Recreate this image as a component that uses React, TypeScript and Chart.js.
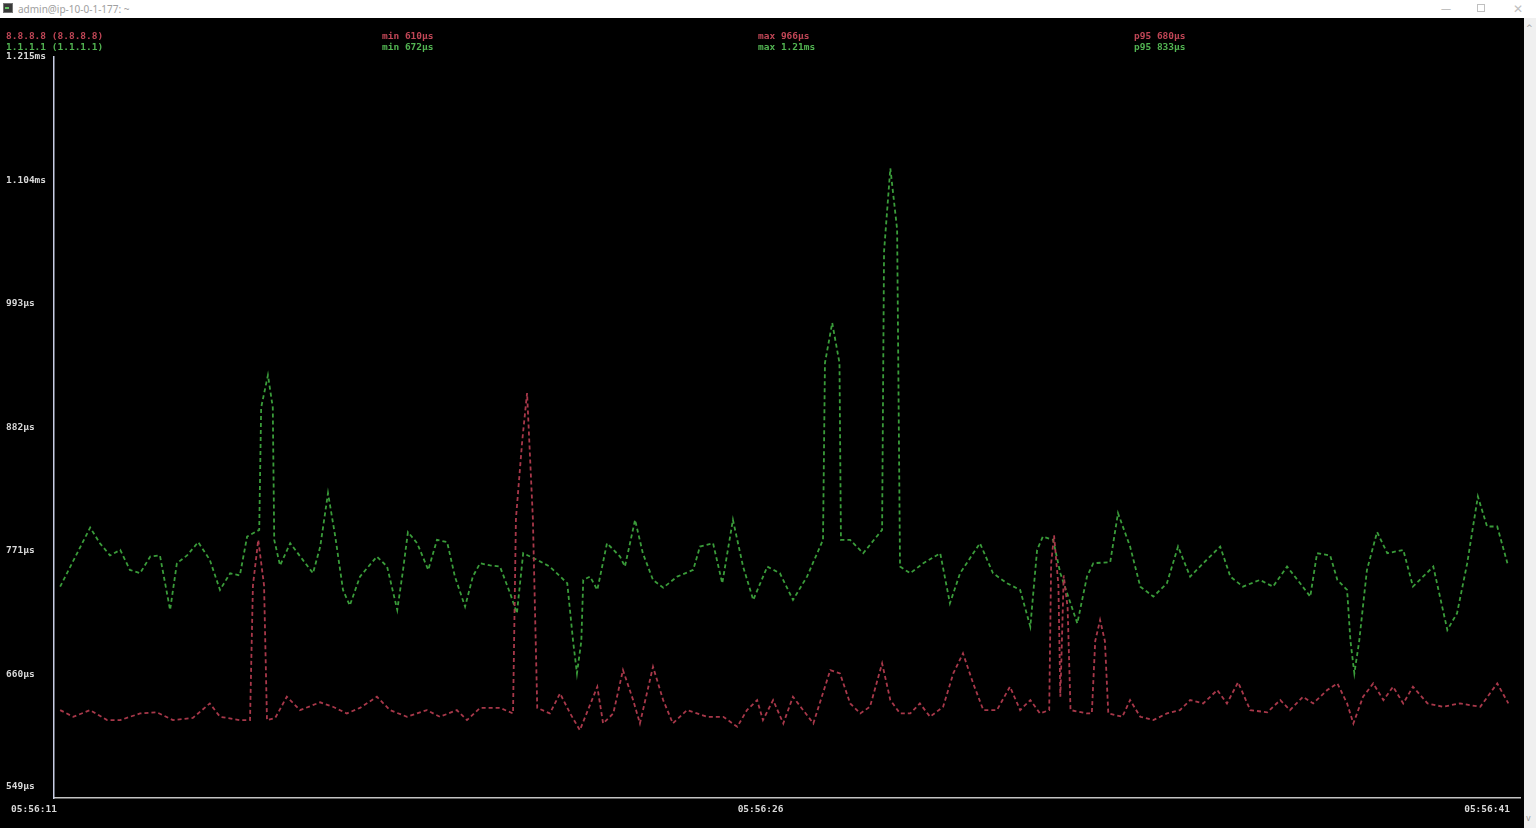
import React, { useEffect, useRef } from 'react';
import { Chart, registerables } from 'chart.js';

Chart.register(...registerables);

// ---- data ----
const seriesNames = ['8.8.8.8 (8.8.8.8)', '1.1.1.1 (1.1.1.1)'];
const minLabels = ['min 610µs', 'min 672µs'];
const maxLabels = ['max 966µs', 'max 1.21ms'];
const p95Labels = ['p95 680µs', 'p95 833µs'];

// seconds since 05:56:11
const redTimes = [
  0.54, 0.81, 1.16, 1.51, 1.78, 2.19, 2.54, 2.87, 3.28, 3.63, 3.84, 4.25, 4.46, 4.52, 4.63, 4.75,
  4.81, 4.98, 5.22, 5.49, 5.91, 6.17, 6.46, 6.73, 7.08, 7.35, 7.7, 8.11, 8.38, 8.73, 8.94, 9.21,
  9.62, 9.89, 9.95, 10.08, 10.18, 10.3, 10.39, 10.65, 10.86, 11.07, 11.27, 11.63, 11.75, 11.96, 12.16, 12.37,
  12.51, 12.78, 12.99, 13.19, 13.48, 13.9, 14.23, 14.52, 14.72, 14.93, 15.05, 15.26, 15.47, 15.67, 15.88, 16.09,
  16.44, 16.64, 16.85, 17.06, 17.26, 17.51, 17.68, 17.88, 18.09, 18.29, 18.5, 18.77, 18.98, 19.18, 19.39, 19.6,
  19.88, 20.15, 20.36, 20.57, 20.77, 20.96, 21.0, 21.06, 21.15, 21.19, 21.26, 21.34, 21.4, 21.74, 21.84, 21.91,
  22.01, 22.11, 22.18, 22.47, 22.63, 22.84, 23.11, 23.39, 23.66, 23.87, 24.14, 24.43, 24.63, 24.86, 25.11, 25.46,
  25.73, 25.93, 26.2, 26.41, 26.7, 26.91, 27.11, 27.24, 27.44, 27.65, 27.86, 28.06, 28.27, 28.47, 28.77, 29.09,
  29.44, 29.86, 30.21, 30.44,
];
const redValues = [
  628, 622, 628, 619, 619, 625, 626, 619, 621, 634, 622, 619, 619, 740, 781, 740,
  619, 621, 640, 628, 635, 631, 625, 630, 640, 628, 622, 628, 622, 628, 619, 630,
  630, 625, 800, 870, 913, 800, 630, 625, 643, 625, 610, 649, 616, 625, 664, 637,
  616, 667, 637, 616, 628, 622, 622, 613, 628, 637, 619, 637, 616, 640, 628, 616,
  664, 661, 634, 625, 631, 670, 637, 625, 625, 634, 622, 631, 661, 679, 652, 628,
  628, 649, 628, 637, 625, 628, 760, 785, 740, 640, 749, 720, 628, 625, 625, 690,
  709, 690, 625, 622, 637, 622, 619, 625, 628, 637, 634, 646, 634, 653, 628, 626,
  637, 628, 640, 634, 646, 652, 634, 616, 640, 652, 637, 649, 634, 649, 634, 631,
  634, 631, 652, 634,
];

const greenTimes = [
  0.54, 1.16, 1.36, 1.57, 1.78, 1.98, 2.19, 2.4, 2.6, 2.81, 2.95, 3.16, 3.39, 3.63, 3.84, 4.05,
  4.25, 4.4, 4.65, 4.69, 4.83, 4.93, 4.96, 5.08, 5.29, 5.55, 5.76, 5.91, 6.07, 6.22, 6.38, 6.52,
  6.73, 7.08, 7.29, 7.5, 7.62, 7.72, 7.91, 8.14, 8.32, 8.53, 8.69, 8.9, 9.06, 9.21, 9.42, 9.62,
  9.83, 9.97, 10.1, 10.39, 10.65, 11.01, 11.13, 11.21, 11.3, 11.34, 11.48, 11.63, 11.83, 12.1, 12.2, 12.41,
  12.57, 12.78, 12.99, 13.28, 13.61, 13.75, 14.02, 14.21, 14.43, 14.64, 14.85, 15.14, 15.4, 15.67, 15.96, 16.17,
  16.29, 16.33, 16.48, 16.63, 16.66, 16.85, 17.12, 17.51, 17.55, 17.68, 17.82, 17.88, 18.09, 18.36, 18.71, 18.91,
  19.12, 19.53, 19.8, 20.09, 20.36, 20.57, 20.71, 20.83, 21.04, 21.19, 21.54, 21.74, 21.87, 22.22, 22.38, 22.63,
  22.84, 23.11, 23.39, 23.62, 23.87, 24.14, 24.49, 24.7, 24.96, 25.31, 25.58, 25.87, 26.14, 26.35, 26.49, 26.76,
  26.91, 27.11, 27.18, 27.26, 27.36, 27.52, 27.73, 27.94, 28.27, 28.47, 28.89, 29.18, 29.38, 29.59, 29.81, 30.0,
  30.21, 30.42,
];
const greenValues = [
  739, 792, 778, 767, 772, 754, 751, 766, 767, 718, 760, 767, 779, 763, 736, 751,
  749, 784, 790, 900, 929, 900, 781, 758, 778, 763, 751, 775, 823, 784, 736, 722,
  748, 766, 757, 718, 754, 788, 778, 754, 781, 779, 748, 721, 748, 760, 758, 757,
  733, 715, 769, 763, 757, 742, 690, 661, 690, 745, 748, 736, 778, 766, 757, 799,
  769, 745, 738, 748, 754, 775, 778, 742, 799, 757, 727, 757, 751, 727, 748, 769,
  781, 940, 976, 940, 781, 781, 769, 790, 1040, 1115, 1060, 757, 751, 760, 769, 724,
  751, 778, 751, 742, 736, 703, 772, 784, 781, 751, 706, 748, 760, 761, 805, 775,
  739, 730, 742, 775, 748, 760, 775, 748, 739, 745, 739, 757, 742, 730, 769, 767,
  745, 736, 690, 661, 690, 754, 788, 769, 772, 739, 757, 700, 715, 760, 820, 793,
  793, 760,
];

const yTickValues = [549, 660, 771, 882, 993, 1104, 1215];
const xTickValues = [0, 15, 30];
const xTickLabels = ['05:56:11', '05:56:26', '05:56:41'];

const RED = '#a8384a';
const GREEN = '#3a9c3a';
const RED_TEXT = '#c04656';
const GREEN_TEXT = '#52b452';
const MONO = '"DejaVu Sans Mono", "Liberation Mono", monospace';

function fmtMicro(v: number): string {
  if (v >= 1000) return (v / 1000).toFixed(3) + 'ms';
  return v + 'µs';
}

function PingChart() {
  const ref = useRef<HTMLCanvasElement | null>(null);
  useEffect(() => {
    if (!ref.current) return;
    const chart = new Chart(ref.current, {
      type: 'line',
      data: {
        datasets: [
          {
            label: seriesNames[0],
            data: redTimes.map((t, i) => ({ x: t, y: redValues[i] })),
            borderColor: RED,
            borderWidth: 1.8,
            borderDash: [4, 3],
            pointRadius: 0,
            tension: 0,
            fill: false,
          },
          {
            label: seriesNames[1],
            data: greenTimes.map((t, i) => ({ x: t, y: greenValues[i] })),
            borderColor: GREEN,
            borderWidth: 1.8,
            borderDash: [4, 3],
            pointRadius: 0,
            tension: 0,
            fill: false,
          },
        ],
      },
      options: {
        animation: false,
        responsive: false,
        devicePixelRatio: 1,
        layout: { padding: { top: 39, right: 4, left: 6, bottom: 0 } },
        plugins: { legend: { display: false }, tooltip: { enabled: false } },
        scales: {
          x: {
            type: 'linear',
            min: 0.413,
            max: 30.68,
            grid: { display: false, drawTicks: false },
            border: { display: true, color: '#c4c4c4', width: 1.5 },
            afterBuildTicks: (scale: any) => {
              scale.ticks = xTickValues.map((v) => ({ value: v }));
            },
            afterFit: (scale: any) => {
              scale.height = 30;
            },
            ticks: {
              autoSkip: false,
              maxRotation: 0,
              minRotation: 0,
              padding: 6,
              color: '#d8d8d8',
              font: { family: MONO, size: 9.5, weight: 'bold' },
              callback: (v: any) => {
                const idx = xTickValues.indexOf(Number(v));
                return idx >= 0 ? xTickLabels[idx] : '';
              },
            },
          },
          y: {
            type: 'linear',
            min: 549,
            max: 1215,
            grid: { display: false, drawTicks: false },
            border: { display: true, color: '#c8cde4', width: 1.5 },
            afterBuildTicks: (scale: any) => {
              scale.ticks = yTickValues.map((v) => ({ value: v }));
            },
            afterFit: (scale: any) => {
              scale.width = 48;
            },
            ticks: {
              autoSkip: false,
              crossAlign: 'far',
              padding: 4,
              color: '#d8d8d8',
              font: { family: MONO, size: 9.5, weight: 'bold' },
              callback: (v: any) => {
                const n = Number(v);
                // bottom label sits just above the x axis line
                return n === yTickValues[0] ? [fmtMicro(n), '', ''] : fmtMicro(n);
              },
            },
          },
        },
      },
    } as any);
    return () => chart.destroy();
  }, []);
  return (
    <canvas
      ref={ref}
      width={1524}
      height={810}
      style={{ position: 'absolute', left: 0, top: 18, width: 1524, height: 810, display: 'block' }}
    />
  );
}

export default function App() {
  useEffect(() => {
    document.body.style.margin = '0';
    document.body.style.background = '#000';
    document.body.style.overflow = 'hidden';
  }, []);

  const headerText = (x: number, y: number, text: string, color: string) => (
    <div
      key={`${x}-${y}`}
      style={{
        position: 'absolute',
        left: x,
        top: y,
        fontFamily: MONO,
        fontWeight: 'bold',
        fontSize: 9.5,
        lineHeight: '11px',
        color,
        whiteSpace: 'pre',
      }}
    >
      {text}
    </div>
  );

  const cols = [6, 382, 758, 1134];
  const rows = [30, 41];
  const colors = [RED_TEXT, GREEN_TEXT];

  return (
    <div style={{ position: 'relative', width: 1536, height: 828, background: '#000', overflow: 'hidden' }}>
      {/* title bar */}
      <div
        style={{
          position: 'absolute',
          left: 0,
          top: 0,
          width: 1536,
          height: 18,
          background: '#ffffff',
          fontFamily: '"Noto Sans", "DejaVu Sans", sans-serif',
        }}
      >
        <div
          style={{
            position: 'absolute',
            left: 3,
            top: 3,
            width: 10,
            height: 10,
            background: '#3a3a3a',
            border: '1px solid #777',
            boxSizing: 'border-box',
          }}
        >
          <div style={{ position: 'absolute', left: 1, top: 3, width: 4, height: 2, background: '#6c6' }} />
        </div>
        <div style={{ position: 'absolute', left: 18, top: 2, fontSize: 10, color: '#a0a0a0', lineHeight: '14px' }}>
          admin@ip-10-0-1-177: ~
        </div>
        <div style={{ position: 'absolute', left: 1441, top: 1, fontSize: 10, color: '#c0c0c0' }}>—</div>
        <div
          style={{
            position: 'absolute',
            left: 1477,
            top: 4,
            width: 8,
            height: 8,
            border: '1px solid #c0c0c0',
            boxSizing: 'border-box',
          }}
        />
        <div style={{ position: 'absolute', left: 1513, top: 0, fontSize: 12, color: '#c0c0c0' }}>✕</div>
      </div>

      {/* scrollbar */}
      <div style={{ position: 'absolute', left: 1524, top: 18, width: 12, height: 810, background: '#f0f0f0' }}>
        <div style={{ position: 'absolute', left: 2, top: 6, fontSize: 8, color: '#a0a0a0', fontFamily: 'DejaVu Sans' }}>^</div>
        <div style={{ position: 'absolute', left: 2, top: 796, fontSize: 8, color: '#a0a0a0', fontFamily: 'DejaVu Sans' }}>v</div>
      </div>

      <PingChart />

      {/* header stats */}
      {rows.map((r, i) => [
        headerText(cols[0], r, seriesNames[i], colors[i]),
        headerText(cols[1], r, minLabels[i], colors[i]),
        headerText(cols[2], r, maxLabels[i], colors[i]),
        headerText(cols[3], r, p95Labels[i], colors[i]),
      ])}
    </div>
  );
}
